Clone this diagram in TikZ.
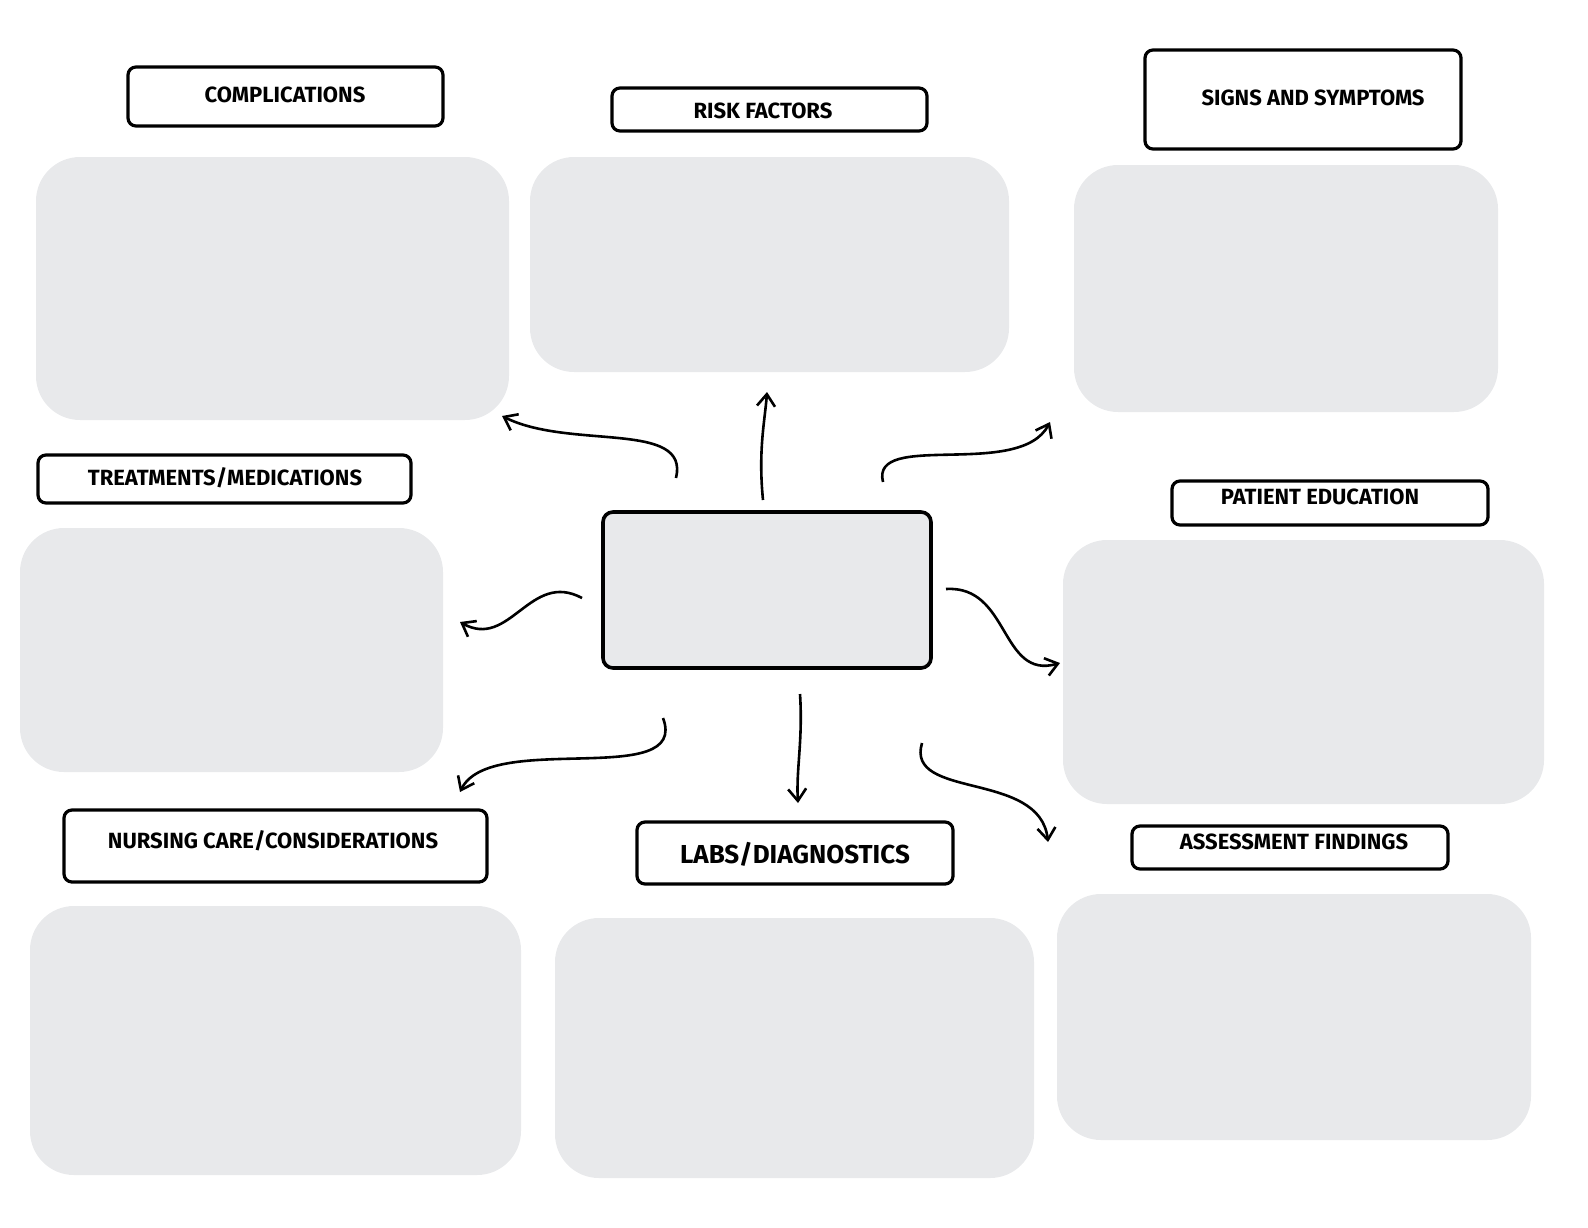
\documentclass[tikz,border=0pt]{standalone}
\usepackage{fontspec}
\setmainfont{Fira Sans}
\usetikzlibrary{arrows.meta}
\definecolor{panel}{HTML}{E8E9EB}
\tikzset{x=0.5pt,y=-0.5pt,
 panelbox/.style={fill=panel,draw=none,rounded corners=22pt},
 labelbox/.style={draw=black,line width=1.6pt,fill=white,rounded corners=4pt},
 lbl/.style={font=\bfseries\fontsize{11}{13}\selectfont},
 arr/.style={line width=1.3pt,-{Straight Barb[length=6pt,width=9pt]}}}
\begin{document}
\begin{tikzpicture}
\useasboundingbox (0,0) rectangle (1588,1227);
% panels
\fill[panelbox] (36,157) rectangle (509,420);
\fill[panelbox] (530,157) rectangle (1009,372);
\fill[panelbox] (1074,165) rectangle (1498,412);
\fill[panelbox] (20,528) rectangle (443,772);
\fill[panelbox] (1063,540) rectangle (1544,804);
\fill[panelbox] (30,906) rectangle (521,1175);
\fill[panelbox] (555,918) rectangle (1034,1178);
\fill[panelbox] (1057,894) rectangle (1531,1140);
\draw[fill=panel,line width=1.8pt,rounded corners=5pt] (603,512) rectangle (931,668);
% label boxes
\draw[labelbox] (128,67) rectangle (443,126); \node[lbl] (l1) at (285,95) {COMPLICATIONS};
\draw[labelbox] (612,88) rectangle (927,131); \node[lbl] (l2) at (763,111) {RISK FACTORS};
\draw[labelbox] (1145,50) rectangle (1461,149); \node[lbl] (l3) at (1313,98) {SIGNS AND SYMPTOMS};
\draw[labelbox] (38,455) rectangle (411,503); \node[lbl] (l4) at (225,478) {TREATMENTS/MEDICATIONS};
\draw[labelbox] (1172,481) rectangle (1488,525); \node[lbl] (l5) at (1320,497) {PATIENT EDUCATION};
\draw[labelbox] (64,810) rectangle (487,882); \node[lbl] (l6) at (273,841) {NURSING CARE/CONSIDERATIONS};
\draw[labelbox] (637,822) rectangle (953,884); \node[lbl,font=\bfseries\fontsize{13}{15}\selectfont] (l7) at (795,854) {LABS/DIAGNOSTICS};
\draw[labelbox] (1132,826) rectangle (1448,869); \node[lbl] (l8) at (1294,842) {ASSESSMENT FINDINGS};
% arrows
\coordinate (a1) at (676,478); \coordinate (b1) at (502,416);
\coordinate (a2) at (763,500); \coordinate (b2) at (767,392);
\coordinate (a3) at (883,482); \coordinate (b3) at (1050,422);
\coordinate (a4) at (582,598); \coordinate (b4) at (460,622);
\coordinate (a5) at (946,589); \coordinate (b5) at (1060,663);
\coordinate (a6) at (663,718); \coordinate (b6) at (460,792);
\coordinate (a7) at (800,694); \coordinate (b7) at (798,803);
\coordinate (a8) at (922,743); \coordinate (b8) at (1048,842);
\draw[arr] (a1) .. controls (690,420) and (570,450) .. (b1);
\draw[arr] (a2) .. controls (758,450) and (765,420) .. (b2);
\draw[arr] (a3) .. controls (870,430) and (1020,480) .. (b3);
\draw[arr] (a4) .. controls (530,570) and (510,650) .. (b4);
\draw[arr] (a5) .. controls (1010,585) and (1000,680) .. (b5);
\draw[arr] (a6) .. controls (690,790) and (490,730) .. (b6);
\draw[arr] (a7) .. controls (803,740) and (796,770) .. (b7);
\draw[arr] (a8) .. controls (905,800) and (1040,770) .. (b8);
\end{tikzpicture}
\end{document}
